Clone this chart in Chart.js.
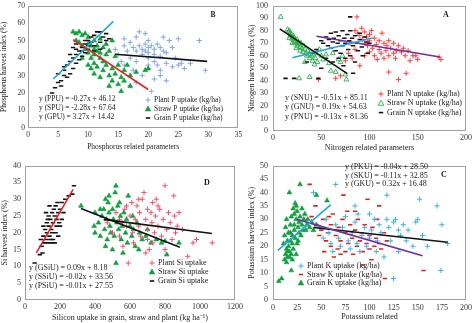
<!DOCTYPE html>
<html>
<head>
<meta charset="utf-8">
<script src="https://cdn.jsdelivr.net/npm/chart.js@4.4.1/dist/chart.umd.min.js"></script>
<style>
body{margin:0;background:#fff;width:474px;height:323px;position:relative;overflow:hidden}
canvas{position:absolute}
</style>
</head>
<body>
<canvas id="pB" width="244" height="160" style="left:0;top:0"></canvas>
<canvas id="pA" width="230" height="160" style="left:244px;top:0"></canvas>
<canvas id="pD" width="244" height="163" style="left:0;top:160px"></canvas>
<canvas id="pC" width="230" height="163" style="left:244px;top:160px"></canvas>
<script>
// ---- B : phosphorus
var bPlant = [[14.5,45],[15,42],[15.5,38],[16,47],[16,36],[16.5,44],[17,49],[17,40],[17.5,46],[17.5,33],[18,52],[18,44],[18,38],[18.5,55],[18.5,47],[19,45],[19,42],[19,30],[19.5,54],[19.5,48],[19.5,44],[20,50],[20,46],[20,43],[20,40],[20,34],[20.5,47],[20.5,21],[21,45],[21,42],[21,38],[21,28],[21.5,48],[21.5,36],[22,46],[22,41],[22,30],[22.5,52],[22.5,44],[23,43],[23,37],[23,27],[23.5,50],[24,46],[24,35],[24.5,40],[25,51],[25,36],[25.5,37],[26,34],[27,37],[28.5,50],[29.5,33],[17,24],[16,51],[18,26],[22,33],[20,36]];
var bStraw = [[7.5,55],[8,54],[8.5,55],[9,53],[9.5,54],[10,52],[8.5,49],[9,47],[9.5,45],[10,48],[10,43],[10.5,47],[10.5,40],[11,50],[11,45],[11,42],[11,37],[11.5,47],[11.5,44],[11.5,35],[12,43],[12,40],[12,51],[12.5,46],[12.5,38],[12.5,33],[13,42],[13,36],[13.5,44],[13.5,30],[13.5,24],[14,50],[14,34],[14,27],[14.5,31],[15,36],[15,25],[15.5,29],[15.5,21],[16,33],[16,27],[16.5,36],[17,30],[17,24],[18,32],[19.5,33],[20,34],[10,36],[9,40],[10.5,34],[12,29],[11,31],[13,48],[8,50],[14.5,41]];
var bGrain = [[4,20],[4.5,23],[5,26],[5.5,27],[6,30],[6,33],[6.5,36],[7,38],[7,31],[7.5,40],[8,42],[8,37],[8.5,44],[9,46],[9,41],[9.5,48],[10,50],[10,45],[10.5,52],[11,53],[11,47],[11.5,55],[12,55],[12,49],[12.5,52],[13,50],[13,54],[6.5,29],[5.5,24],[7.5,34],[8,45],[9.5,43],[10,47],[8.5,39],[6,35],[7,42],[9,44],[11,44],[12,45],[10.5,49],[5,31],[13.5,51],[8,48],[9.5,50],[7.5,46]];
var bFitPlant = [[14.5,42.2],[29.8,38.1]];
var bFitStraw = [[7.5,50.5],[20,22]];
var bFitGrain = [[4.2,28],[14.2,61]];
var bEq = ["y (PPU) = -0.27x + 46.12","y (SPU) = -2.28x + 67.64","y (GPU) = 3.27x + 14.42"];
var bLeg = ["Plant P uptake (kg/ha)","Straw P uptake (kg/ha)","Grain P uptake (kg/ha)"];

// ---- A : nitrogen
var aPlant = [[87,91],[85,80],[88,78],[90,76],[92,82],[93,73],[95,79],[95,70],[97,75],[98,68],[100,77],[100,72],[100,63],[102,80],[103,66],[105,74],[105,60],[107,69],[108,57],[110,72],[110,65],[112,62],[113,78],[115,70],[115,58],[117,64],[118,68],[120,72],[120,60],[120,47],[122,66],[125,62],[125,70],[127,58],[128,64],[130,41],[130,68],[133,63],[135,66],[137,60],[138,46],[140,64],[142,56],[145,60],[148,60],[150,57],[172,59],[174,57],[90,52],[95,60],[85,65],[80,70],[78,62],[75,56],[70,44],[47,41],[65,42],[82,58]];
var aStraw = [[8,91],[15,81],[16,79],[17,80],[18,78],[18,76],[19,77],[20,75],[20,73],[21,76],[22,74],[22,71],[23,72],[24,70],[25,73],[25,68],[26,71],[27,69],[28,67],[28,64],[29,70],[30,66],[31,63],[32,68],[33,65],[34,62],[35,60],[36,64],[37,61],[38,58],[39,63],[40,60],[41,56],[42,61],[43,53],[44,58],[45,62],[46,55],[48,65],[50,60],[52,57],[55,61],[58,54],[60,48],[62,62],[65,47],[68,57],[70,55],[72,60],[75,45],[76,41],[27,42],[38,43],[33,55],[20,70],[24,66],[17,74]];
var aGrain = [[13,42],[22,42],[47,42],[80,91],[50,72],[52,70],[55,75],[57,68],[58,73],[60,78],[60,66],[62,71],[63,74],[65,64],[65,79],[67,70],[68,76],[70,72],[70,62],[72,80],[72,68],[74,74],[75,58],[75,70],[77,77],[78,65],[79,72],[80,80],[80,60],[82,74],[83,68],[85,76],[85,55],[87,70],[88,64],[90,78],[90,73],[92,67],[93,60],[95,75],[97,71],[98,62],[100,70],[45,65],[40,62],[50,50],[55,58],[62,55],[68,58],[73,52],[35,55],[83,46]];
var aFitStraw = [[7,81.5],[77,45.8]];
var aFitGrain = [[20,58.4],[103,74.2]];
var aFitPlant = [[45,75.5],[173,59]];
var aEq = ["y (SNU) = -0.51x + 85.11","y (GNU) = 0.19x + 54.63","y (PNU) = -0.13x + 81.36"];
var aLeg = ["Plant N uptake (kg/ha)","Straw N uptake (kg/ha)","Grain N uptake (kg/ha)"];

// ---- D : silicon
var dGrain = [[55,11],[85,13.5],[100,14],[95,16],[110,17],[120,18],[130,17],[105,19],[125,20],[140,19],[115,21],[135,22],[150,21],[160,23],[145,24],[130,24],[170,25],[180,22],[155,26],[165,27],[190,26],[175,28],[200,27],[185,29],[210,29],[230,30],[250,31],[270,31.5],[280,34],[120,26],[140,28],[160,18],[175,20],[150,17],[190,19],[200,22],[210,24],[220,26],[105,22],[90,18],[170,17],[195,23],[135,25],[155,20],[180,24],[125,23],[145,18]];
var dStraw = [[320,28],[395,22],[400,20],[400,26],[420,23],[430,19],[440,25],[450,27],[455,21],[460,30],[465,24],[470,18],[475,29],[480,26],[485,22],[490,20],[500,27],[505,24],[510,19],[515,32],[520,34],[520,11],[525,23],[530,28],[535,21],[545,25],[550,18],[555,22],[560,14],[565,26],[575,20],[580,24],[585,17],[590,31],[600,22],[610,19],[615,25],[620,21],[630,16],[640,23],[650,15],[655,20],[670,18],[690,19],[700,21],[720,17],[750,18],[780,17],[810,13.5],[800,17.5],[880,17],[430,27],[460,16],[500,15],[540,29],[480,31]];
var dPlant = [[470,23],[500,20],[520,26],[540,19],[555,23],[570,27],[580,22],[590,11],[600,25],[610,29],[615,20],[620,17],[630,24],[640,28],[650,22],[655,26],[660,19],[670,30],[680,32],[690,24],[700,21],[700,27],[710,15],[720,26],[725,23],[730,29],[740,20],[745,25],[750,30],[760,22],[770,27],[780,19],[790,24],[800,34],[800,15],[810,21],[820,26],[830,23],[840,18],[850,31],[855,25],[860,20],[870,22],[880,26],[900,21],[930,13],[960,17],[980,18],[1070,17],[730,17],[690,14],[650,30],[760,28],[580,28],[560,16],[700,18],[540,24]];
var dFitGrain = [[65,14],[275,32.9]];
var dFitStraw = [[320,27.2],[885,15.7]];
var dFitPlant = [[450,24],[1068,19.8]];
var dEq = ["y (GSiU) = 0.09x + 8.18","y (SSiU) = -0.02x + 33.56","y (PSiU) = -0.01x + 27.55"];
var dLeg = ["Plant Si uptake","Straw Si uptake","Grain Si uptake"];

// ---- C : potassium
var cGrain = [[6,7],[9,8],[19,11],[17,40],[28,43],[45,39],[56,37],[12,15],[13,17],[14,19],[15,16],[16,20],[17,18],[18,22],[19,17],[20,21],[20,24],[21,19],[22,26],[22,28],[23,23],[24,30],[24,35],[25,21],[25,33],[26,27],[27,25],[27,29],[28,31],[29,24],[30,28],[31,26],[32,30],[33,32],[35,28],[36,30],[38,27],[40,29],[42,26],[45,28],[12,24],[13,27],[14,30],[15,22],[16,25],[18,28],[19,31],[21,34],[23,36],[15,18],[17,16],[20,15],[24,17],[11,21],[14,14],[22,32],[26,22],[30,34],[34,26],[18,25]];
var cStraw = [[38,43],[73,39],[98,37.5],[110,35],[116,8],[156,11],[44,35],[40,31],[45,28],[50,26],[52,30],[55,22],[57,25],[60,20],[60,28],[62,32],[65,24],[67,19],[68,27],[70,22],[72,30],[75,25],[75,18],[78,21],[80,28],[82,23],[83,17],[85,26],[87,20],[88,30],[90,22],[92,25],[93,18],[95,28],[97,21],[100,24],[100,19],[103,27],[105,20],[107,23],[108,30],[110,21],[112,19],[115,25],[118,22],[48,24],[53,18],[58,31],[63,16],[85,33],[93,13],[102,15],[70,17],[77,33]];
var cPlant = [[42,40],[65,43],[118,39],[152,37.5],[170,35],[175,28],[174,11],[125,8],[181,21],[48,27],[52,23],[55,30],[58,25],[60,21],[62,18],[65,28],[68,23],[70,20],[72,27],[75,31],[78,22],[80,19],[82,25],[85,29],[87,21],[88,32],[90,18],[92,24],[95,27],[97,20],[100,23],[102,26],[105,30],[107,18],[108,22],[110,28],[112,25],[115,16],[118,30],[120,27],[122,22],[125,29],[127,30],[130,26],[132,24],[135,28],[138,22],[140,26],[145,20],[150,30],[155,24],[160,20],[148,29],[130,18],[100,32],[85,35]];
var cFitGrain = [[5,18.5],[60,35.5]];
var cFitStraw = [[25,30],[155,16.5]];
var cFitPlant = [[42,27],[181,21.5]];
var cEq = ["y (PKU) = -0.04x + 28.50","y (SKU) = -0.11x + 32.85","y (GKU) = 0.32x + 16.48"];
var cLeg = ["Plant K uptake (kg/ha)","Straw K uptake (kg/ha)","Grain K uptake (kg/ha)"];

var F = "'Liberation Serif','Times New Roman',serif";
var GREEN = "#13a040", BLACK = "#111", CYAN = "#27a4dc", PURPLE = "#7030a0", RED = "#e52226";

function pts(a){ return a.map(function(p){ return {x:p[0], y:p[1]}; }); }

// marker styles
var sCross = function(c){ return {pointStyle:'cross', radius:2.6, bw:1, border:c, fill:c}; };
var sTri = function(c){ return {pointStyle:'triangle', radius:2.8, bw:0.6, border:c, fill:c}; };
var sOpenTri = function(c){ return {pointStyle:'triangle', radius:2.8, bw:0.9, border:c, fill:'rgba(255,255,255,0)'}; };
var sDash = function(c){ return {pointStyle:'line', radius:2.2, bw:1.6, border:c, fill:c}; };

function scat(data, s){
  return {data:pts(data), pointStyle:s.pointStyle, pointRadius:s.radius, pointBorderWidth:s.bw,
    borderColor:s.border, backgroundColor:s.fill, showLine:false};
}
function fit(data, c){
  return {data:pts(data), showLine:true, borderColor:c, borderWidth:1.6, pointRadius:0};
}

function drawMark(ctx, s, x, y){
  ctx.save();
  ctx.strokeStyle = s.border; ctx.fillStyle = s.fill; ctx.lineWidth = s.bw;
  var r = s.radius;
  ctx.beginPath();
  if (s.pointStyle == 'cross') {
    ctx.moveTo(x-r,y); ctx.lineTo(x+r,y); ctx.moveTo(x,y-r); ctx.lineTo(x,y+r); ctx.stroke();
  } else if (s.pointStyle == 'line') {
    ctx.moveTo(x-r,y); ctx.lineTo(x+r,y); ctx.stroke();
  } else {
    ctx.moveTo(x, y-r*1.1); ctx.lineTo(x+r, y+r*0.7); ctx.lineTo(x-r, y+r*0.7); ctx.closePath();
    ctx.fill(); ctx.stroke();
  }
  ctx.restore();
}

var notes = {
  id:'notes',
  beforeDatasetsDraw: function(chart){
    var a = chart.chartArea, ctx = chart.ctx;
    ctx.save();
    ctx.strokeStyle = '#a0a0a0'; ctx.lineWidth = 1;
    ctx.strokeRect(Math.round(a.left)+0.5, Math.round(a.top)+0.5, Math.round(a.right-a.left)-1, Math.round(a.bottom-a.top)-1);
    ctx.restore();
  },
  afterDraw: function(chart, args, o){
    var ctx = chart.ctx;
    ctx.save();
    ctx.fillStyle = '#1a1a1a'; ctx.textBaseline = 'middle'; ctx.textAlign = 'left';
    ctx.font = o.fs + "px " + F;
    o.eq.forEach(function(t, i){ ctx.fillText(t, o.eqX, o.eqY + i*o.dy); });
    o.leg.forEach(function(t, i){
      drawMark(ctx, o.marks[i], o.legX, o.legY + i*o.dy);
      ctx.fillStyle = '#1a1a1a';
      ctx.fillText(t, o.legX + 6, o.legY + i*o.dy);
    });
    ctx.font = "bold " + o.fs + "px " + F;
    ctx.textAlign = 'center';
    ctx.fillText(o.letter[0], o.letter[1], o.letter[2]);
    ctx.restore();
  }
};

function plain(v){ return String(v); }

function panel(id, o){
  var tf = {family:F, size:o.fs};
  new Chart(document.getElementById(id), {
    type:'scatter',
    data:{datasets:o.datasets},
    options:{
      responsive:false, animation:false, devicePixelRatio:1,
      layout:{padding:o.pad},
      plugins:{legend:{display:false}, tooltip:{enabled:false}, notes:o.notes},
      scales:{
        x:{type:'linear', min:o.x[0], max:o.x[1],
          ticks:{stepSize:o.x[2], font:tf, color:'#333', padding:o.xtp, maxRotation:0, autoSkip:false, callback:plain},
          grid:{display:false, drawTicks:false}, border:{display:false},
          title:{display:true, text:o.xt, font:tf, color:'#222', padding:{top:0, bottom:o.xtb}},
          afterFit:function(s){ s.height = o.xh; s.paddingLeft = 0; s.paddingRight = 0; }},
        y:{type:'linear', min:o.y[0], max:o.y[1],
          ticks:{stepSize:o.y[2], font:tf, color:'#333', padding:o.ytp, autoSkip:false, callback:plain},
          grid:{display:false, drawTicks:false}, border:{display:false},
          title:{display:true, text:o.yt, font:tf, color:'#222', padding:{top:o.ytt, bottom:0}},
          afterFit:function(s){ s.width = o.yw; s.paddingTop = 0; s.paddingBottom = 0; }}
      }
    },
    plugins:[notes]
  });
}

// B
var bm = [sCross('#86a6da'), sTri(GREEN), sDash(BLACK)];
panel('pB', {
  datasets:[fit(bFitPlant,BLACK), fit(bFitStraw,RED), fit(bFitGrain,CYAN),
    scat(bGrain,bm[2]), scat(bStraw,bm[1]), scat(bPlant,bm[0])],
  pad:{left:0,right:4,top:3,bottom:0}, yw:28, xh:32, fs:7.5,
  x:[0,35,5], y:[0,70,10], xtp:3, xtb:8, ytp:3, ytt:0,
  xt:"Phosphorus related parameters", yt:"Phosphorus harvest index (%)",
  notes:{fs:7.5, eq:bEq, eqX:39, eqY:99, dy:9, leg:bLeg, marks:bm, legX:148, legY:100, letter:["B",213,15]}
});

// A
var am = [sCross('#ff3d3d'), sOpenTri('#2aae4a'), sDash(BLACK)];
panel('pA', {
  datasets:[fit(aFitStraw,BLACK), fit(aFitGrain,CYAN), fit(aFitPlant,PURPLE),
    scat(aGrain,am[2]), scat(aStraw,am[1]), scat(aPlant,am[0])],
  pad:{left:0,right:8,top:3,bottom:0}, yw:29, xh:29, fs:8,
  x:[0,200,50], y:[0,100,10], xtp:2, xtb:7, ytp:5, ytt:3,
  xt:"Nitrogen related parameters", yt:"Nitrogen harvest index (%)",
  notes:{fs:8, eq:aEq, eqX:41, eqY:98, dy:9.3, leg:aLeg, marks:am, legX:137, legY:94, letter:["A",202,15]}
});

// D
var dm = [sCross('#f0506a'), sTri(GREEN), sDash(BLACK)];
panel('pD', {
  datasets:[fit(dFitGrain,RED), fit(dFitStraw,BLACK), fit(dFitPlant,BLACK),
    scat(dGrain,dm[2]), scat(dPlant,dm[0]), scat(dStraw,dm[1])],
  pad:{left:0,right:9,top:3,bottom:0}, yw:25, xh:23, fs:8,
  x:[0,1200,200], y:[0,40,5], xtp:2, xtb:0, ytp:4, ytt:0,
  xt:"Silicon uptake in grain, straw and plant (kg ha\u207B\u00B9)", yt:"Si harvest index (%)",
  notes:{fs:8, eq:dEq, eqX:29, eqY:108, dy:9, leg:dLeg, marks:dm, legX:152, legY:103, letter:["D",207,23]}
});

// C
var cm = [sCross('#3bb2e3'), sDash('#e02020'), sTri(GREEN)];
panel('pC', {
  datasets:[fit(cFitGrain,CYAN), fit(cFitStraw,PURPLE), fit(cFitPlant,BLACK),
    scat(cPlant,cm[0]), scat(cStraw,cm[1]), scat(cGrain,cm[2])],
  pad:{left:0,right:8,top:2,bottom:0}, yw:29, xh:23, fs:8,
  x:[0,200,25], y:[0,50,5], xtp:3, xtb:1, ytp:5, ytt:3,
  xt:"Potassium related", yt:"Potassium harvest index (%)",
  notes:{fs:8, eq:cEq, eqX:101, eqY:7, dy:8.5, leg:cLeg, marks:cm, legX:57, legY:106, letter:["C",200,15]}
});
</script>
</body>
</html>
